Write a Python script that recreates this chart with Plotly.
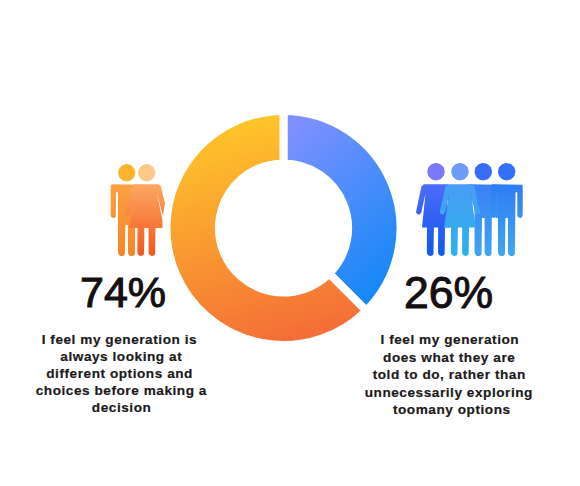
import math
import plotly.graph_objects as go

# ---- data ----
slice_names = ["Does what they are told", "Looking at different options"]
slice_values = [37.5, 62.5]          # drawn arc shares, as the ring shows them
pct_labels = ["74%", "26%"]
left_lines = ["I feel my generation is", "always looking at", "different options and",
              "choices before making a", "decision"]
right_lines = ["I feel my generation", "does what they are", "told to do, rather than",
               "unnecessarily exploring", "toomany options"]

W, H = 580, 486
CX, CY, R = 283.5, 228.0, 117.0


def arc(cx, cy, r, a0, a1, n=8):
    return [(cx + r * math.cos(math.radians(a0 + (a1 - a0) * i / n)),
             cy + r * math.sin(math.radians(a0 + (a1 - a0) * i / n))) for i in range(n + 1)]


def head(cx, cy, r=8.7):
    return arc(cx, cy, r, 0, 360, 48)


def man(c, top=184.3, bottom=256.0, crotch=222.0, arm_end=218.0):
    pts = [(c - 14.5, top), (c + 14.5, top)]
    pts += arc(c + 14.5, top + 1.5, 1.5, -90, 0, 4)
    pts += arc(c + 13.3, arm_end - 2.7, 2.7, 0, 180, 6)
    pts += [(c + 10.6, top + 8), (c + 8.8, top + 8), (c + 8.8, bottom - 3)]
    pts += arc(c + 5, bottom - 3.5, 3.7, 0, 180, 6)
    pts += [(c + 1.3, crotch), (c - 1.3, crotch), (c - 1.3, bottom - 3)]
    pts += arc(c - 5, bottom - 3.5, 3.7, 0, 180, 6)
    pts += [(c - 8.8, top + 8), (c - 10.6, top + 8)]
    pts += arc(c - 13.3, arm_end - 2.7, 2.7, 0, 180, 6)
    pts += arc(c - 14.5, top + 1.5, 1.5, 180, 270, 4)
    return pts


def woman(c, hem=16.0, arm=19.5, top=184.3, bottom=256.0, hem_y=227.5, arm_y=214.0):
    pts = [(c - 12, top), (c + 12, top), (c + 14.5, top + 2)]
    pts += arc(c + arm - 2.2, arm_y - 2, 2.6, -10, 170, 6)
    pts += [(c + 10.5, top + 9), (c + hem, hem_y), (c + 9, hem_y), (c + 9, bottom - 3)]
    pts += arc(c + 5.6, bottom - 3.5, 3.5, 0, 180, 6)
    pts += [(c + 2.1, hem_y), (c - 2.1, hem_y), (c - 2.1, bottom - 3)]
    pts += arc(c - 5.6, bottom - 3.5, 3.5, 0, 180, 6)
    pts += [(c - 9, hem_y), (c - hem, hem_y), (c - 10.5, top + 9)]
    pts += arc(c - arm + 2.2, arm_y - 2, 2.6, 10, 190, 6)
    pts += [(c - 14.5, top + 2)]
    return pts


def glyph(pts, c0, c1, y0, y1):
    xs = [p[0] for p in pts] + [pts[0][0]]
    ys = [p[1] for p in pts] + [pts[0][1]]
    return go.Scatter(x=xs, y=ys, mode="lines", line=dict(width=0), fill="toself",
                      fillgradient=dict(type="vertical", start=y0, stop=y1,
                                        colorscale=[[0, c0], [1, c1]]),
                      hoverinfo="skip", showlegend=False)


fig = go.Figure()

# ---- left couple ----
fig.add_trace(glyph(man(126.7, crotch=225), "#FBA043", "#FA8426", 184, 256))
fig.add_trace(glyph(woman(146.5, hem=17.5, arm=20.5, hem_y=228, arm_y=215),
                    "#FBA863", "#F3561A", 184, 256))
fig.add_trace(glyph(head(126.7, 172.7, 8.6), "#FDB32C", "#FDB32C", 164, 181))
fig.add_trace(glyph(head(146.7, 172.7, 8.6), "#FDC987", "#FDC987", 164, 181))

# ---- right group ----
fig.add_trace(glyph(woman(436, hem=14, arm=19.5), "#4C6CF8", "#1357EE", 184, 256))
fig.add_trace(glyph(man(483.3, crotch=218), "#3A80F6", "#3FA6F0", 184, 256))
fig.add_trace(glyph(man(506.7, crotch=218), "#2F7CF4", "#3FA8F0", 184, 256))
fig.add_trace(glyph(woman(460, hem=16, arm=19.8), "#4A9CF6", "#2AB2EA", 184, 256))
for hx, col in zip([436, 460, 483.3, 506.7], ["#7C78FA", "#6E9CFB", "#3A6BF8", "#3370FA"]):
    fig.add_trace(glyph(head(hx, 171.7, 8.7), col, col, 163, 181))

# ---- ring ----
fig.add_trace(go.Pie(
    labels=slice_names, values=slice_values, hole=0.552, sort=False, direction="clockwise",
    rotation=0, textinfo="none", hoverinfo="skip", showlegend=False,
    marker=dict(colors=["#4D8CFA", "#F99A30"], line=dict(color="white", width=8)),
    domain=dict(x=[(CX - R) / W, (CX + R) / W], y=[1 - (CY + R) / H, 1 - (CY - R) / H]),
))

# ---- text ----
FONT = "Liberation Sans, Arial, sans-serif"
ann = []
for label, x, size in zip(pct_labels, [122.7, 448.0], [43.0, 44.5]):
    ann.append(dict(x=x, y=292, text=label, showarrow=False, xanchor="center", yanchor="middle",
                    font=dict(family=FONT, size=size, color="#140F10")))
for lines, xs, ys in [
    (left_lines, [119, 121.7, 119.3, 121.7, 121], [339, 356.3, 373.3, 390.3, 407.3]),
    (right_lines, [449.5, 449.7, 449.3, 449.3, 451.7], [339.7, 357, 374.3, 392, 409.3]),
]:
    for t, x, y in zip(lines, xs, ys):
        ann.append(dict(x=x, y=y, text="<b>%s</b>" % t, showarrow=False, xanchor="center",
                        yanchor="middle", font=dict(family=FONT, size=13.6, color="#1C1A1C")))

fig.update_layout(
    width=W, height=H, autosize=False,
    margin=dict(l=0, r=0, t=0, b=0),
    paper_bgcolor="white", plot_bgcolor="white",
    xaxis=dict(range=[0, W], visible=False, fixedrange=True),
    yaxis=dict(range=[H, 0], visible=False, fixedrange=True),
    annotations=ann,
)

# page without margin, smooth colour ramps across the ring slices, heavier text
post = """
document.body.style.margin = '0';
document.body.style.overflow = 'hidden';
var gd = document.getElementById('{plot_id}');
var svg = gd.querySelector('svg.main-svg');
var ns = 'http://www.w3.org/2000/svg';
var defs = svg.querySelector('defs');
function ramp(id, x1, y1, x2, y2, c1, c2) {
  var g = document.createElementNS(ns, 'linearGradient');
  g.setAttribute('id', id);
  g.setAttribute('x1', x1); g.setAttribute('y1', y1);
  g.setAttribute('x2', x2); g.setAttribute('y2', y2);
  [[0, c1], [1, c2]].forEach(function (s) {
    var st = document.createElementNS(ns, 'stop');
    st.setAttribute('offset', s[0]); st.setAttribute('stop-color', s[1]);
    g.appendChild(st);
  });
  defs.appendChild(g);
}
ramp('ringBlue', 0.25, 0.0, 0.75, 0.95, '#7E90FF', '#1488F6');
ramp('ringOrange', 0.5, 0.0, 0.72, 0.95, '#FFC62A', '#F46E37');
var paths = gd.querySelectorAll('.slice path.surface');
if (paths.length > 1) {
  paths[0].style.fill = 'url(#ringBlue)';
  paths[1].style.fill = 'url(#ringOrange)';
}
gd.querySelectorAll('.annotation-text').forEach(function (t) {
  if (t.textContent.indexOf('%') >= 0) {
    t.style.stroke = '#140F10';
    t.style.strokeWidth = '1px';
  } else {
    t.style.letterSpacing = '0.55px';
    t.style.stroke = '#1C1A1C';
    t.style.strokeWidth = '0.2px';
  }
});
"""

fig.write_html("out.html", post_script=post, config=dict(displayModeBar=False))
